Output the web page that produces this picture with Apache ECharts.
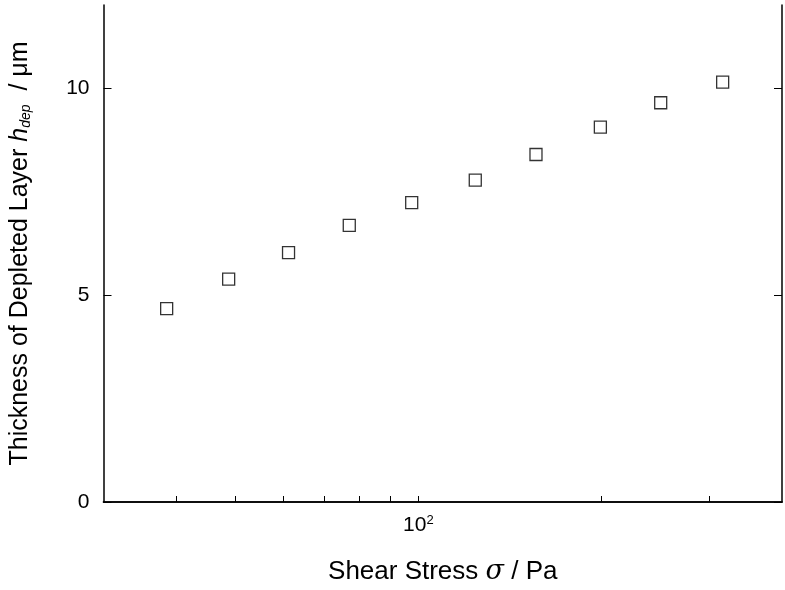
<!DOCTYPE html>
<html><head><meta charset="utf-8">
<script src="https://cdn.jsdelivr.net/npm/echarts@6/dist/echarts.min.js"></script>
<style>body{margin:0}#main{width:785px;height:590px}</style>
</head><body><div id="main"></div>
<script>
var shearStress = [38.6, 48.8, 61.2, 77, 97.5, 124, 156, 199, 250, 316];
var thickness = [4.67, 5.38, 6.02, 6.68, 7.23, 7.77, 8.39, 9.05, 9.64, 10.14];
var xTicks = [40, 50, 60, 70, 80, 90, 100, 200, 300];
var xLabels = [100];
var yTicks = [0, 5, 10];

var chart = echarts.init(document.getElementById('main'), null, {renderer: 'canvas'});
var font = 'Liberation Sans, Arial, sans-serif';
var axisLine = {show: true, lineStyle: {color: '#000', width: 1.5}};
var option = {
    backgroundColor: '#fff',
    animation: false,
    grid: {left: 97, right: 3, top: 5, bottom: 80},
    xAxis: [{
        type: 'log', logBase: 10, min: 30.4, max: 395.5,
        axisLine: axisLine,
        axisTick: {inside: true, length: 6, customValues: xTicks, lineStyle: {color: '#000'}},
        axisLabel: {
            customValues: xLabels, color: '#000', fontFamily: font, fontSize: 21, margin: 12,
            formatter: function () { return '10{s|2}'; },
            rich: {s: {fontSize: 13, verticalAlign: 'top', padding: [0, 0, 10, 0], fontFamily: font}}
        },
        splitLine: {show: false},
        name: 'Shear Stress {i|σ} / Pa', nameLocation: 'middle', nameGap: 56,
        nameTextStyle: {color: '#000', fontFamily: font, fontSize: 26,
            rich: {i: {fontStyle: 'italic', fontSize: 27, fontFamily: 'DejaVu Serif'}}}
    }, {
        type: 'log', logBase: 10, min: 30.4, max: 395.5, position: 'top',
        axisLine: axisLine, axisTick: {show: false}, axisLabel: {show: false}, splitLine: {show: false}
    }],
    yAxis: [{
        type: 'value', min: 0, max: 12, interval: 5,
        axisLine: axisLine,
        axisTick: {inside: true, length: 8, customValues: yTicks, lineStyle: {color: '#000'}},
        axisLabel: {customValues: yTicks, color: '#000', fontFamily: font, fontSize: 21, margin: 14},
        splitLine: {show: false},
        name: 'Thickness of Depleted Layer {i|h}{sub|dep}  / μm', nameLocation: 'middle', nameGap: 70, nameRotate: 90,
        nameTextStyle: {color: '#000', fontFamily: font, fontSize: 25,
            rich: {i: {fontStyle: 'italic', fontSize: 25, fontFamily: font},
                   sub: {fontStyle: 'italic', fontSize: 14, fontFamily: font, verticalAlign: 'bottom', padding: [12, 0, 0, 0]}}}
    }, {
        type: 'value', min: 0, max: 12, interval: 5, position: 'right',
        axisLine: axisLine,
        axisTick: {inside: true, length: 8, customValues: yTicks, lineStyle: {color: '#000'}},
        axisLabel: {show: false}, splitLine: {show: false}
    }],
    series: [{
        type: 'scatter',
        symbol: 'rect', symbolSize: 12,
        itemStyle: {color: '#fff', borderColor: '#000', borderWidth: 1.3},
        data: shearStress.map(function (x, i) { return [x, thickness[i]]; })
    }]
};
chart.setOption(option);
window.addEventListener('resize', chart.resize);
</script></body></html>
